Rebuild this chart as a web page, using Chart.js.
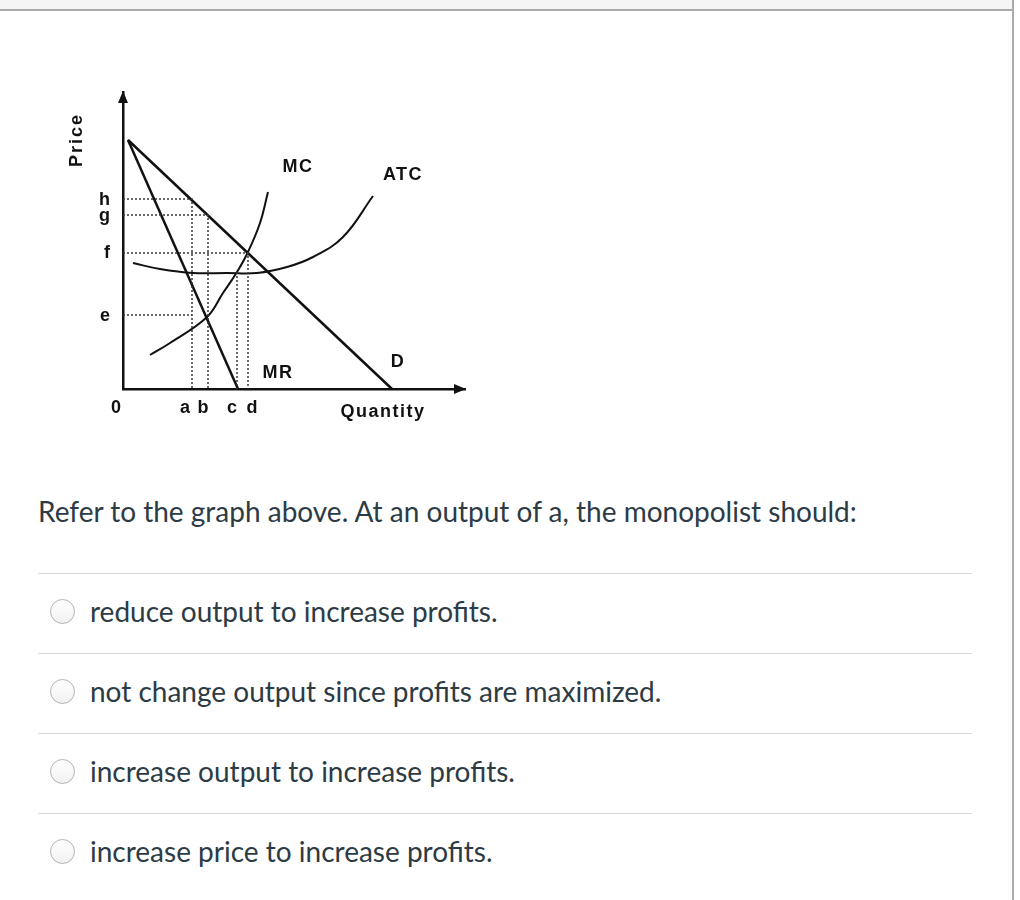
<!DOCTYPE html>
<html>
<head>
<meta charset="utf-8">
<script src="https://cdn.jsdelivr.net/npm/chart.js@4.4.0/dist/chart.umd.min.js"></script>
<style>
  body { margin: 0; width: 1020px; height: 900px; background: #fff; position: relative; overflow: hidden; font-family: Lato, "Noto Sans", sans-serif; }
  #topbar { position: absolute; left: 0; top: 0; width: 1012px; height: 9px; background: #f5f5f5; border-bottom: 2px solid #aaa; }
  #rightbar { position: absolute; left: 1012px; top: 0; width: 2px; height: 900px; background: #aaa; }
  #chartBox { position: absolute; left: 0; top: 0; width: 500px; height: 450px; }
  .q { position: absolute; left: 38px; top: 495px; font-size: 28px; line-height: 33.6px; color: #2d3b45; white-space: nowrap; }
  .rule { position: absolute; left: 38px; width: 934px; height: 1px; background: #d9d9d9; }
  .opt { position: absolute; left: 90px; font-size: 28px; line-height: 33.6px; color: #2d3b45; white-space: nowrap; }
  .radio { position: absolute; left: 50px; width: 25px; height: 25px; border-radius: 50%; border: 1px solid #b3b3b3; box-sizing: border-box; background: linear-gradient(#fff, #f1f1f1); }
</style>
</head>
<body>
<div id="topbar"></div>
<div id="rightbar"></div>
<div id="chartBox"><canvas id="monopolyChart"></canvas></div>

<div class="q">Refer to the graph above. At an output of a, the monopolist should:</div>

<div class="rule" style="top:573px"></div>
<div class="radio" style="top:599px"></div>
<div class="opt" style="top:595px">reduce output to increase profits.</div>

<div class="rule" style="top:653px"></div>
<div class="radio" style="top:679px"></div>
<div class="opt" style="top:675px">not change output since profits are maximized.</div>

<div class="rule" style="top:733px"></div>
<div class="radio" style="top:759px"></div>
<div class="opt" style="top:755px">increase output to increase profits.</div>

<div class="rule" style="top:813px"></div>
<div class="radio" style="top:839px"></div>
<div class="opt" style="top:835px">increase price to increase profits.</div>

<script>
// tick labels, placed where the picture prints them
const quantityTicks = [-0.7, 6.2, 8.0, 10.9, 12.9];
const quantityTickLabels = ['0', 'a', 'b', 'c', 'd'];
const priceTicks = [7.3, 13.6, 17.3, 18.9];
const priceTickLabels = ['e', 'f', 'g', 'h'];

// curves (quantity, price)
const demandQ = [0.5, 26.9];
const demandP = [24.9, 0];
const mrQ = [0.5, 11.5];
const mrP = [24.9, 0];
const mcQ = [2.7, 4.7, 8.4, 10.0, 11.4, 12.5, 13.7, 14.5];
const mcP = [3.4, 4.6, 7.2, 9.6, 11.7, 13.7, 16.6, 19.7];
const atcQ = [1.0, 3.7, 7.0, 10.4, 13.4, 16.4, 19.0, 22.0, 25.0];
const atcP = [12.6, 12.0, 11.6, 11.6, 11.6, 12.2, 13.2, 15.2, 19.3];

// dotted guide lines
const guideHQ = [0, 6.9, 6.9];
const guideHP = [19.0, 19.0, 0];
const guideGQ = [0, 8.5, 8.5];
const guideGP = [17.4, 17.4, 0];
const guideFQ = [0, 12.5, 12.5];
const guideFP = [13.6, 13.6, 0];
const guideEQ = [0, 6.9];
const guideEP = [7.4, 7.4];
const guideCQ = [11.4, 11.4];
const guideCP = [11.7, 0];

const xMax = 34.2;
const yMax = 29.7;

function pts(qs, ps) {
    return qs.map((q, i) => ({ x: q, y: ps[i] }));
}

const INK = '#111';
const FAMILY = '"Liberation Sans", Arial, sans-serif';

// text placed next to the curves, in data units
const curveLabels = [
    { text: 'MC', q: 17.5, p: 22.2 },
    { text: 'ATC', q: 28.0, p: 21.4 },
    { text: 'D', q: 27.5, p: 2.7 },
    { text: 'MR', q: 15.5, p: 1.6 }
];

function curve(data, extra) {
    return Object.assign({
        data: data,
        borderColor: INK,
        borderWidth: 2,
        pointRadius: 0,
        fill: false,
        clip: false
    }, extra || {});
}

function guide(data) {
    return curve(data, { borderColor: '#3a3a3a', borderWidth: 1.5, borderDash: [2, 2] });
}

const axisExtras = {
    id: 'axisExtras',
    afterDraw(chart) {
        const { ctx, chartArea: a, scales: { x, y } } = chart;
        ctx.save();
        ctx.fillStyle = INK;

        // arrow heads
        ctx.beginPath();
        ctx.moveTo(a.left, a.top - 1);
        ctx.lineTo(a.left - 5, a.top + 11);
        ctx.lineTo(a.left + 5, a.top + 11);
        ctx.closePath();
        ctx.fill();

        ctx.beginPath();
        ctx.moveTo(a.right + 1, a.bottom);
        ctx.lineTo(a.right - 11, a.bottom - 5);
        ctx.lineTo(a.right - 11, a.bottom + 5);
        ctx.closePath();
        ctx.fill();

        ctx.font = 'bold 18px ' + FAMILY;
        ctx.letterSpacing = '1.5px';
        ctx.textAlign = 'center';
        ctx.textBaseline = 'middle';
        curveLabels.forEach(l => {
            ctx.fillText(l.text, x.getPixelForValue(l.q), y.getPixelForValue(l.p));
        });

        ctx.fillText('Quantity', x.getPixelForValue(26.0), y.getPixelForValue(-2.3));

        ctx.translate(x.getPixelForValue(-4.6), y.getPixelForValue(24.9));
        ctx.rotate(-Math.PI / 2);
        ctx.letterSpacing = '2px';
        ctx.fillText('Price', 0, 0);
        ctx.restore();
    }
};

const ctx = document.getElementById('monopolyChart').getContext('2d');

new Chart(ctx, {
    type: 'line',
    data: {
        datasets: [
            guide(pts(guideHQ, guideHP)),
            guide(pts(guideGQ, guideGP)),
            guide(pts(guideFQ, guideFP)),
            guide(pts(guideEQ, guideEP)),
            guide(pts(guideCQ, guideCP)),
            curve(pts(demandQ, demandP), { borderWidth: 2.5 }),
            curve(pts(mrQ, mrP), { borderWidth: 2.5 }),
            curve(pts(mcQ, mcP), { tension: 0.4 }),
            curve(pts(atcQ, atcP), { tension: 0.4 })
        ]
    },
    options: {
        responsive: true,
        maintainAspectRatio: false,
        animation: false,
        events: [],
        layout: { padding: { left: 0, right: 35, top: 92, bottom: 0 } },
        plugins: {
            legend: { display: false },
            tooltip: { enabled: false }
        },
        scales: {
            x: {
                type: 'linear',
                min: 0,
                max: xMax,
                grid: { display: false, drawTicks: false },
                border: { display: true, color: INK, width: 2.5 },
                afterFit: s => { s.height = 61; },
                afterBuildTicks: s => { s.ticks = quantityTicks.map(v => ({ value: v })); },
                ticks: {
                    autoSkip: false,
                    maxRotation: 0,
                    padding: 8,
                    color: INK,
                    font: { family: FAMILY, size: 18, weight: 'bold' },
                    callback: (v, i) => quantityTickLabels[i]
                }
            },
            y: {
                type: 'linear',
                min: 0,
                max: yMax,
                grid: { display: false, drawTicks: false },
                border: { display: true, color: INK, width: 2.5 },
                afterFit: s => { s.width = 123; },
                afterBuildTicks: s => { s.ticks = priceTicks.map(v => ({ value: v })); },
                ticks: {
                    autoSkip: false,
                    padding: 13,
                    color: INK,
                    font: { family: FAMILY, size: 18, weight: 'bold' },
                    callback: (v, i) => priceTickLabels[i]
                }
            }
        }
    },
    plugins: [axisExtras]
});
</script>
</body>
</html>
